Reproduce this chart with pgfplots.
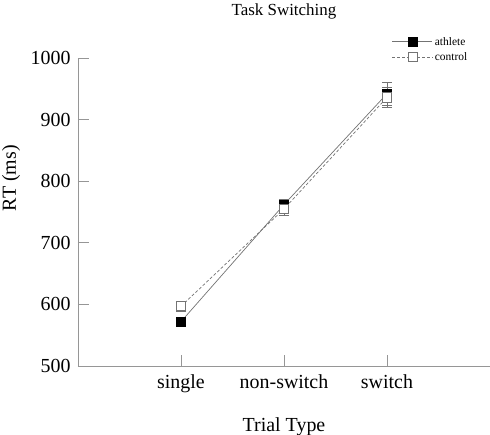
\documentclass[border=0pt]{standalone}
\usepackage{fontspec}
\setmainfont{Liberation Serif}
\usepackage{pgfplots}
\pgfplotsset{compat=1.18}
\definecolor{axgray}{RGB}{150,150,150}
\definecolor{lngray}{RGB}{115,115,115}
\begin{document}
\begin{tikzpicture}
\begin{axis}[name=ax,
 scale only axis, width=412bp, height=308bp,
 xmin=0, xmax=4, ymin=500, ymax=1000,
 axis x line=bottom, axis y line=left,
 axis line style={-, draw=axgray, line width=0.8bp},
 tick style={draw=axgray, line width=0.8bp},
 tick align=inside, major tick length=11bp,
 xtick={1,2,3,4}, xticklabels={single,non-switch,switch,{}},
 ytick={500,600,...,1000},
 /pgf/number format/assume math mode=true,
 /pgf/number format/set thousands separator={},
 tick label style={font=\fontsize{20}{23}\selectfont},
 xticklabel style={yshift=-5bp},
 yticklabel style={xshift=-4bp},
 xlabel={Trial Type}, ylabel={RT (ms)},
 xlabel style={font=\fontsize{20}{23}\selectfont, at={(axis description cs:0.5,0)}, anchor=base, yshift=-65bp},
 ylabel style={font=\fontsize{20}{23}\selectfont, at={(axis description cs:-0.1505,0.61)}, anchor=base},
 title={Task Switching},
 title style={font=\fontsize{17}{20}\selectfont, at={(axis description cs:0.5,1)}, anchor=base, yshift=37bp},
 legend style={at={(axis description cs:0.762,1.075)}, anchor=north west, draw=none, fill=none,
   font=\fontsize{11.5}{13}\selectfont, row sep=2bp, inner sep=0pt},
 legend cell align=left,
 legend image code/.code={\draw[#1, mark repeat=2, mark phase=2] plot coordinates {(0bp,0bp) (20bp,0bp) (40bp,0bp)};},
]
\addplot+[draw=lngray, solid, line width=0.7bp,
  mark=square*, mark size=4.6bp, mark options={solid, fill=black, draw=black},
  error bars/.cd, y dir=both, y explicit,
  error bar style={draw=lngray, line width=0.7bp, solid},
  error mark options={rotate=90, mark size=5bp, draw=lngray, solid}]
 coordinates {(1,572) +- (0,6) (2,762) +- (0,9) (3,942) +- (0,18)};
\addlegendentry{athlete}
\addplot+[draw=lngray, densely dashed, line width=0.7bp,
  mark=square*, mark size=4.6bp, mark options={solid, fill=white, draw=lngray},
  error bars/.cd, y dir=both, y explicit,
  error bar style={draw=lngray, line width=0.7bp, solid},
  error mark options={rotate=90, mark size=5bp, draw=lngray, solid}]
 coordinates {(1,597) +- (0,8) (2,755) +- (0,10) (3,936) +- (0,16)};
\addlegendentry{control}
\end{axis}
\pgfresetboundingbox
\path ([xshift=-78bp,yshift=-69bp]ax.south west) rectangle ([yshift=58bp]ax.north east);
\end{tikzpicture}
\end{document}
